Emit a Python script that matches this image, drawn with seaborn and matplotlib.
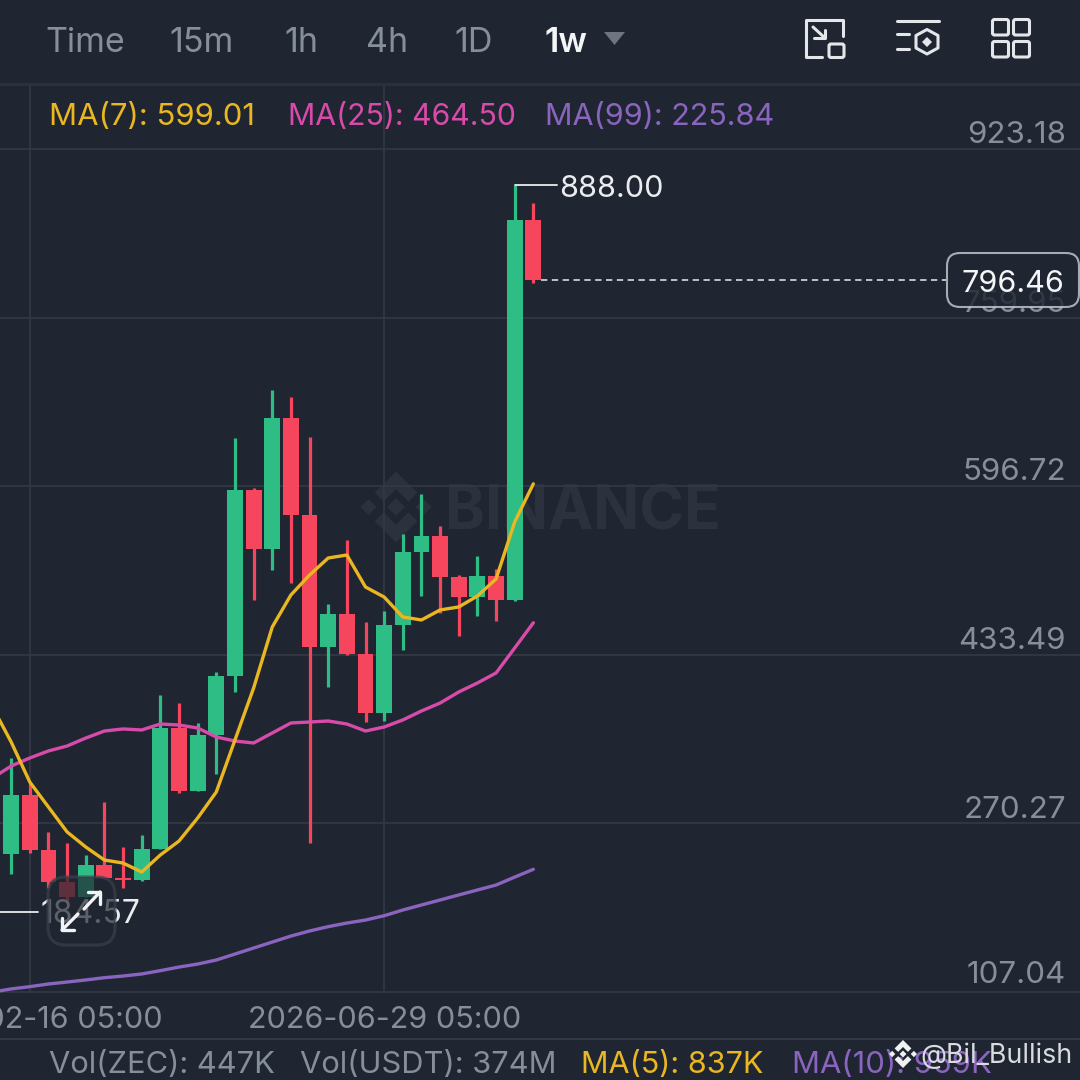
import pandas as pd
import matplotlib
matplotlib.use("Agg")
import matplotlib.pyplot as plt
import seaborn as sns
from matplotlib.patches import FancyBboxPatch, Polygon

# ========================
# Data
# ========================
opens = [305.5, 240.6, 297.8, 244.5, 213.5, 199.0, 230.0, 217.4, 215.5, 245.5,
         362.6, 301.6, 355.8, 413.0, 593.0, 536.0, 662.7, 568.8, 441.0, 473.0,
         434.3, 377.1, 462.3, 533.0, 548.5, 508.8, 489.4, 509.8, 486.5, 854.4]
highs = [322.0, 333.6, 309.4, 262.0, 251.3, 239.7, 291.0, 247.4, 259.0, 394.6,
         386.8, 367.5, 416.8, 643.4, 595.0, 689.8, 683.0, 644.4, 482.7, 544.6,
         465.2, 475.9, 550.4, 589.1, 558.2, 510.7, 529.1, 516.5, 888.0, 870.9]
lows = [225.0, 221.3, 241.6, 207.7, 194.2, 199.0, 217.4, 207.7, 214.5, 245.5,
        299.7, 301.6, 318.1, 397.5, 486.5, 515.6, 503.0, 251.3, 402.3, 433.3,
        368.4, 369.4, 438.1, 490.4, 474.0, 451.7, 471.0, 466.2, 485.6, 793.5]
closes = [240.6, 297.8, 244.5, 213.5, 199.0, 230.0, 217.4, 215.5, 245.5, 362.6,
          301.6, 355.8, 413.0, 593.0, 536.0, 662.7, 568.8, 441.0, 473.0, 434.3,
          377.1, 462.3, 533.0, 548.5, 508.8, 489.4, 509.8, 486.5, 854.4, 796.46]
ma7 = [383.0, 349.1, 310.3, 286.1, 262.0, 247.4, 234.8, 231.9, 223.2, 239.7,
       253.2, 275.5, 300.7, 351.0, 401.3, 460.4, 491.4, 510.7, 527.2, 530.1,
       499.1, 489.4, 470.1, 467.2, 476.9, 479.8, 490.4, 506.9, 562.1, 599.01]
ma25 = [314.2, 325.8, 333.6, 340.4, 345.2, 352.9, 359.7, 361.7, 360.7, 366.5,
        365.5, 362.6, 353.9, 350.0, 348.1, 357.8, 367.5, 368.4, 369.4, 366.5,
        359.7, 363.6, 370.4, 379.1, 386.8, 397.5, 406.2, 415.9, 440.1, 464.5]
ma99 = [107.0, 110.0, 112.2, 114.8, 116.7, 118.7, 120.9, 122.5, 124.5, 127.7,
        131.2, 134.1, 138.0, 143.8, 149.6, 155.4, 161.2, 166.1, 170.3, 173.8,
        176.7, 180.9, 186.4, 191.3, 196.1, 201.0, 205.8, 210.6, 218.3, 225.84]

price_ticks = [923.18, 759.95, 596.72, 433.49, 270.27, 107.04]
date_pos = [2, 21]
date_labels = ["2026-02-16 05:00", "2026-06-29 05:00"]
intervals = ["Time", "15m", "1h", "4h", "1D"]
interval_x = [45, 169, 284, 366, 454]

last_price = 796.46
high_price = 888.00
low_price = 184.57

# colours
BG = "#1F2631"
GRID = "#343A46"
GREEN = "#2EBD85"
RED = "#F6465D"
YELLOW = "#EAB621"
PINK = "#D94BAA"
PURPLE = "#8A64BE"
GREY = "#868E9B"
WHITE = "#EAECEF"
ICON = "#E4E6EA"

sns.set_theme(style="dark", rc={"figure.facecolor": BG, "axes.facecolor": BG})
plt.rcParams["font.family"] = ["Inter", "DejaVu Sans"]

fig = plt.figure(figsize=(10.8, 10.8), dpi=100)

# background layer (watermark), chart layer, ui layer on top - last two in pixels
bg = fig.add_axes([0, 0, 1, 1], zorder=0)
ax = fig.add_axes([0, 0, 1, 1], zorder=1)
ui = fig.add_axes([0, 0, 1, 1], zorder=2)
for a in (bg, ui):
    a.set_xlim(0, 1080)
    a.set_ylim(1080, 0)
    a.axis("off")
ax.patch.set_alpha(0)
ui.patch.set_alpha(0)


def binance_logo(a, cx, cy, r, color, zorder=1):
    # five piece diamond logo, r = half height
    s = r / 40
    pieces = [
        [(0, -10), (10, 0), (0, 10), (-10, 0)],
        [(-40, 0), (-31, -9), (-22, 0), (-31, 9)],
        [(40, 0), (31, -9), (22, 0), (31, 9)],
        [(0, -40), (24, -16), (14, -6), (0, -20), (-14, -6), (-24, -16)],
        [(0, 40), (24, 16), (14, 6), (0, 20), (-14, 6), (-24, 16)],
    ]
    for p in pieces:
        a.add_patch(Polygon([(cx + px * s, cy + py * s) for px, py in p],
                            closed=True, fc=color, ec="none", zorder=zorder))


# Watermark
binance_logo(bg, 396, 507, 35.5, "#2B313D")
bg.text(445, 513, "BINANCE", color="#2B313D", fontsize=43.5, fontweight="bold",
        va="center", ha="left")

# ========================
# Chart
# ========================
ax.set_xlim(0.402, 58.31)
ax.set_ylim(21.85, 1067.4)
ax.axis("off")

for p in price_ticks:
    ax.axhline(p, color=GRID, lw=1.1, zorder=1)
for i in date_pos:
    ax.plot([i, i], [price_ticks[-1], 1067.4 - 84 * 0.9681], color=GRID, lw=1.1, zorder=1)

df = pd.DataFrame({"x": range(len(opens)), "o": opens, "h": highs, "l": lows, "c": closes})
df["color"] = [GREEN if c >= o else RED for o, c in zip(df["o"], df["c"])]

ax.vlines(df["x"], df["l"], df["h"], colors=df["color"], lw=2.3, zorder=2)
ax.bar(df["x"], (df["c"] - df["o"]).abs(), bottom=df[["o", "c"]].min(axis=1),
       width=0.85, color=df["color"], linewidth=0, zorder=3)

# Moving averages
ma_df = pd.concat([
    pd.DataFrame({"x": df["x"], "value": ma99, "name": "MA99"}),
    pd.DataFrame({"x": df["x"], "value": ma25, "name": "MA25"}),
    pd.DataFrame({"x": df["x"], "value": ma7, "name": "MA7"}),
])
sns.lineplot(data=ma_df, x="x", y="value", hue="name", estimator=None, sort=False,
             palette={"MA7": YELLOW, "MA25": PINK, "MA99": PURPLE},
             linewidth=2.4, legend=False, ax=ax, zorder=4)
ax.set_xlim(0.402, 58.31)
ax.set_ylim(21.85, 1067.4)
ax.axis("off")

# price axis labels sit just above their grid line, the lowest one a bit higher
for p in price_ticks:
    off = 12 if p == price_ticks[-1] else 10
    ax.annotate(f"{p:.2f}", xy=(1066 / 1080, p), xycoords=ax.get_yaxis_transform(),
                xytext=(0, off), textcoords="offset points", ha="right", va="center",
                color=GREY, fontsize=22.5, zorder=5)
for i, lab in zip(date_pos, date_labels):
    ax.annotate(lab, xy=(i, price_ticks[-1]), xycoords="data", xytext=(0, -20),
                textcoords="offset points", ha="center", va="center",
                color=GREY, fontsize=22, annotation_clip=False)

# high / low markers
ax.plot([28, 30.25], [high_price, high_price], color=WHITE, lw=1.3, zorder=5)
ax.annotate(f"{high_price:.2f}", xy=(30.3, high_price), xycoords="data", xytext=(0.8, -2.5),
            textcoords="offset points", ha="left", va="center", color=WHITE, fontsize=22, zorder=5)
ax.plot([0.402, 2.44], [low_price, low_price], color=WHITE, lw=1.3, zorder=5)
ax.annotate(f"{low_price:.2f}", xy=(2.44, low_price), xycoords="data", xytext=(2, -2.2),
            textcoords="offset points", ha="left", va="center", color=WHITE, fontsize=23, zorder=5)

# current price line
ax.plot([29.4, 51.1], [last_price, last_price], color="#C9CDD3", lw=1.3,
        ls=(0, (3.5, 2.5)), zorder=5)

# ========================
# UI: header, legends, icons
# ========================
for lab, x in zip(intervals, interval_x):
    ui.text(x, 43, lab, color=GREY, fontsize=24.5, ha="left", va="center")
ui.text(544, 43, "1w", color="#F4F5F7", fontsize=24.5, fontweight="semibold", ha="left", va="center")
ui.add_patch(Polygon([(604, 32), (625, 32), (614.5, 45)], closed=True, fc="#6F7580", ec="none"))
ui.plot([0, 1080], [84, 84], color="#2B313C", lw=2.2)

ui.text(49, 117, "MA(7): 599.01", color=YELLOW, fontsize=22.4, va="center")
ui.text(288, 117, "MA(25): 464.50", color=PINK, fontsize=21.8, va="center")
ui.text(545, 117, "MA(99): 225.84", color=PURPLE, fontsize=22, va="center")

ui.plot([0, 1080], [1039, 1039], color=GRID, lw=1.3)
ui.text(49, 1065, "Vol(ZEC): 447K", color=GREY, fontsize=22.2, va="center")
ui.text(300, 1065, "Vol(USDT): 374M", color=GREY, fontsize=22.2, va="center")
ui.text(581, 1065, "MA(5): 837K", color=YELLOW, fontsize=22, va="center")
ui.text(792, 1065, "MA(10): 959K", color=PURPLE, fontsize=22.3, va="center")

# repost watermark
binance_logo(ui, 903, 1054, 14, "#F0F1F3", zorder=6)
ui.text(920, 1056, "@Bil_Bullish", color="#D9DBDF", fontsize=19.3, va="center", zorder=6)

# price pill, half see through
ui.add_patch(FancyBboxPatch((955, 261), 116, 38, boxstyle="round,pad=8,rounding_size=13",
                            fc=BG, ec="#C6CAD0", lw=1.5, alpha=0.82))
ui.text(1013, 284, f"{last_price:.2f}", color="#F4F5F7", fontsize=22, ha="center", va="center")

# expand button
ui.add_patch(FancyBboxPatch((62, 891), 39, 40, boxstyle="round,pad=14,rounding_size=18",
                            fc=BG, ec="#3B414C", lw=2.2, alpha=0.7))
arrow = dict(color="#F2F3F5", lw=2.4, solid_capstyle="round", solid_joinstyle="round")
ui.plot([84, 100], [909, 892], **arrow)
ui.plot([88, 100, 100], [892, 892, 904], **arrow)
ui.plot([78, 62], [914, 930], **arrow)
ui.plot([62, 62, 74], [918, 930, 930], **arrow)

# top right icons
icon = dict(color=ICON, lw=2.2, solid_capstyle="round", solid_joinstyle="round")
ui.plot([843, 843, 806, 806, 822], [36, 19.5, 19.5, 56.5, 56.5], **icon)
ui.add_patch(FancyBboxPatch((830, 45), 13, 11.5, boxstyle="round,pad=1,rounding_size=2",
                            fc="none", ec=ICON, lw=2.2))
ui.plot([813, 825], [27, 38], **icon)
ui.plot([825, 825, 814], [30, 38, 38], **icon)

ui.plot([897, 939], [21, 21], **icon)
ui.plot([897, 909], [34, 34], **icon)
ui.plot([897, 909], [49, 49], **icon)
ui.add_patch(Polygon([(927, 29.5), (938, 35.5), (938, 48), (927, 54), (916, 48), (916, 35.5)],
                     closed=True, fc="none", ec=ICON, lw=2.2, joinstyle="round"))
ui.add_patch(Polygon([(927, 37), (932, 42), (927, 47), (922, 42)], closed=True, fc=ICON, ec="none"))

for x0 in (993, 1014):
    for y0 in (20, 42):
        ui.add_patch(FancyBboxPatch((x0, y0), 15, 14.5, boxstyle="round,pad=0.5,rounding_size=2",
                                    fc="none", ec=ICON, lw=2.2))

plt.savefig("out.png", dpi=100, facecolor=BG)
